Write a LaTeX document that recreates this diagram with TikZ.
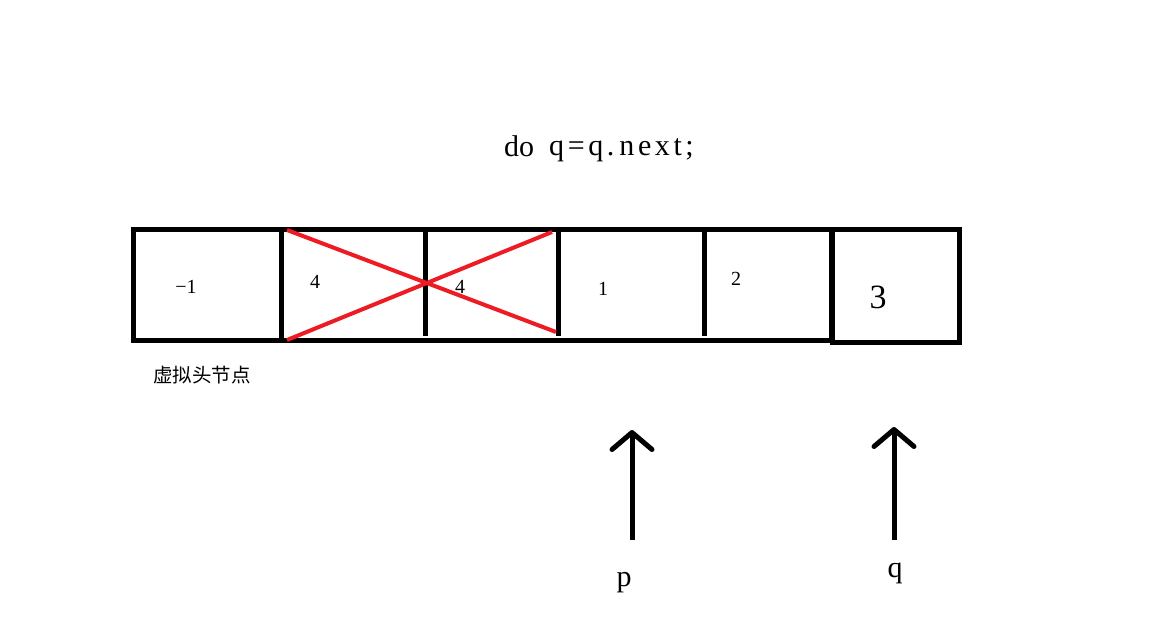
\documentclass[tikz,border=0pt]{standalone}
\usepackage{fontspec}
\setmainfont{Liberation Serif}
\newfontfamily\cjk{Noto Sans CJK SC}
\newfontfamily\codefont[LetterSpace=12]{Liberation Serif}
\usetikzlibrary{arrows.meta}
\definecolor{paintred}{RGB}{237,28,36}
\tikzset{
  box/.style={draw=black,line width=5pt},
  divider/.style={draw=black,line width=5pt},
  cross/.style={draw=paintred,line width=4pt},
  cell/.style={inner sep=0pt,font=\fontsize{20}{20}\selectfont},
  ptr/.style={draw=black,line width=5pt,-{Straight Barb[length=17pt,width=40pt,line cap=round,line join=round]}},
  lab/.style={inner sep=0pt,font=\fontsize{30}{30}\selectfont}
}
\begin{document}
\begin{tikzpicture}[x=1pt,y=-1pt]
\useasboundingbox (0,0) rectangle (1167,634);
% title
\node[lab] (do) at (519,146) {do};
\node[lab,anchor=west,font=\codefont\fontsize{30}{30}\selectfont] (code) at (549,150) {q=q.\,next;};
% list
\draw[box] (133,229) rectangle (831,340);
\draw[box] (832,229) rectangle (959,342);
\draw[divider] (281,229) -- (281,340);
\draw[divider] (425,231) -- (425,336);
\draw[divider] (558,231) -- (558,336);
\draw[divider] (704,231) -- (704,336);
% red cross
\draw[cross] (287,230) -- (556,332);
\draw[cross] (287,340) -- (552,232);
% cell labels
\node[cell] (c1) at (186,287) {−1};
\node[cell] (c2) at (315,282) {4};
\node[cell] (c3) at (460,287) {4};
\node[cell] (c4) at (603,289) {1};
\node[cell] (c5) at (736,279) {2};
\node[cell,font=\fontsize{34}{34}\selectfont] (c6) at (878,297) {3};
\node[inner sep=0pt,font=\cjk\fontsize{19.5}{19.5}\selectfont] (head) at (202,375) {虚拟头节点};
% pointers
\node[lab] (p) at (624,583) {p};
\node[lab] (q) at (895,573) {q};
\coordinate (ptip) at (632,430);
\coordinate (qtip) at (894,427);
\draw[ptr] (632,540) -- (ptip);
\draw[ptr] (894,540) -- (qtip);
\end{tikzpicture}
\end{document}
